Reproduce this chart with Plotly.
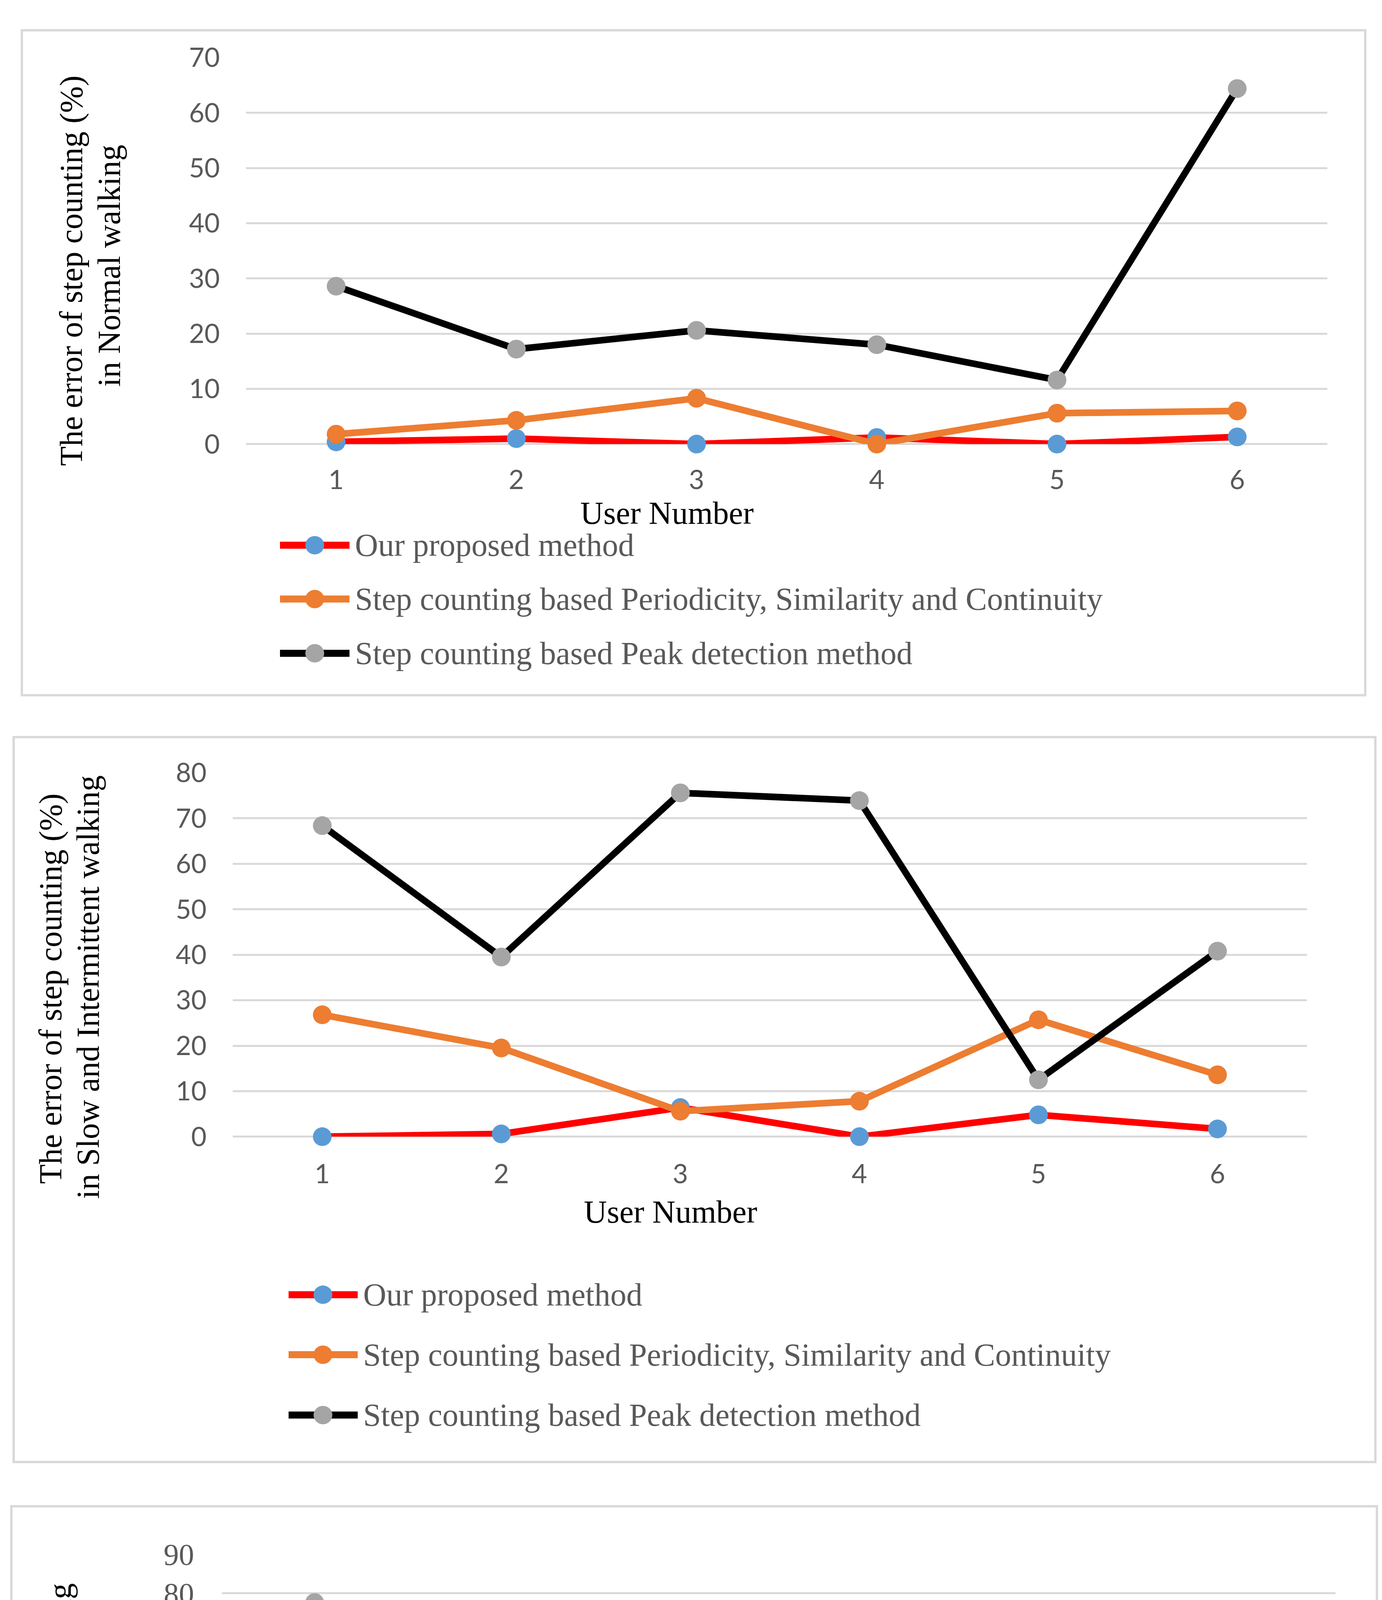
import plotly.graph_objects as go

W, H = 3539, 5597

users = [1, 2, 3, 4, 5, 6]
series_names = [
    "Our proposed method",
    "Step counting based Periodicity, Similarity and Continuity",
    "Step counting based Peak detection method",
]

# Panel 1: Normal walking
normal_ours = [0.4, 1.0, 0.0, 1.2, 0.0, 1.3]
normal_period = [1.8, 4.3, 8.3, 0.0, 5.6, 6.0]
normal_peak = [28.6, 17.2, 20.6, 18.0, 11.6, 64.4]

# Panel 2: Slow and Intermittent walking
slow_ours = [0.0, 0.6, 6.4, 0.0, 4.8, 1.7]
slow_period = [26.8, 19.5, 5.6, 7.8, 25.7, 13.6]
slow_peak = [68.4, 39.5, 75.6, 73.9, 12.5, 40.8]

# Panel 3: False walking
false_ours = [6.0, 3.4, 1.1, 3.0, 4.7, 3.5]
false_period = [13.2, 16.4, 12.5, 11.5, 20.9, 21.8]
false_peak = [77.6, 35.0, 67.9, 46.4, 21.9, 68.8]

line_colors = ["#ff0000", "#ed7d31", "#000000"]
marker_colors = ["#5b9bd5", "#ed7d31", "#a5a5a5"]

GRID = "#d9d9d9"
TXT = "#595959"
SERIF = "Liberation Serif, Times New Roman, serif"
SANS = "Lato, Open Sans, sans-serif"


def px_x(p):
    return p / W


def px_y(p):
    return 1 - p / H


# legend rows: (series index, text lines with their y centres)
panels = [
    dict(data=[normal_ours, normal_period, normal_peak], ymax=70,
         plot=(622, 3391, 98, 1103), frame=(48, 3488, 27, 1756),
         tickfont=dict(family=SANS, size=68, color=TXT), ystandoff=66, xstandoff=46,
         xtitle=(1700, 1282),
         legend=dict(x0=709, x1=887, xm=798, xt=899,
                     rows=[[(series_names[0], 1366)],
                           [(series_names[1], 1506)],
                           [(series_names[2], 1647)]]),
         ytitles=[("The error of step counting (%)", 175, 652, "middle"),
                  ("in Normal walking", 271, 640, "middle")]),
    dict(data=[slow_ours, slow_period, slow_peak], ymax=80,
         plot=(588, 3339, 1958, 2904), frame=(27, 3514, 1865, 3750),
         tickfont=dict(family=SANS, size=68, color=TXT), ystandoff=66, xstandoff=50,
         xtitle=(1709, 3100),
         legend=dict(x0=731, x1=908, xm=819, xt=920,
                     rows=[[(series_names[0], 3315)],
                           [(series_names[1], 3471)],
                           [(series_names[2], 3628)]]),
         ytitles=[("The error of step counting (%)", 122, 2519, "middle"),
                  ("in Slow and Intermittent walking", 218, 2515, "middle")]),
    dict(data=[false_ours, false_period, false_peak], ymax=90,
         plot=(560, 3412, 3990, 4901), frame=(21, 3518, 3865, 5570),
         tickfont=dict(family=SERIF, size=78, color=TXT), ystandoff=70, xstandoff=50,
         xtitle=(1782, 5143),
         legend=dict(x0=919, x1=1096, xm=1007, xt=1108,
                     rows=[[(series_names[0], 5247)],
                           [("Step counting based Periodicity, Similarity and", 5416),
                            ("Continuity", 5511)]]),
         ytitles=[("The error of step counting", 145, 4937, "bottom"),
                  ("(%)", 241, 4937, "bottom"),
                  ("in False walking", 337, 4498, "middle")]),
]

fig = go.Figure()
shapes = []
annotations = []
layout_axes = {}

for i, p in enumerate(panels, start=1):
    xa = "x" if i == 1 else f"x{i}"
    ya = "y" if i == 1 else f"y{i}"
    l, r, t, b = p["plot"]
    for k, vals in enumerate(p["data"]):
        fig.add_trace(go.Scatter(
            x=users, y=vals, xaxis=xa, yaxis=ya, mode="lines+markers",
            name=series_names[k], showlegend=False, cliponaxis=False,
            line=dict(color=line_colors[k], width=17),
            marker=dict(color=marker_colors[k], size=48, line=dict(width=0)),
        ))
    xkey = "xaxis" if i == 1 else f"xaxis{i}"
    ykey = "yaxis" if i == 1 else f"yaxis{i}"
    layout_axes[xkey] = dict(
        domain=[px_x(l), px_x(r)], range=[0.5, 6.5], anchor=ya,
        tickmode="array", tickvals=users, ticktext=[str(u) for u in users],
        showgrid=False, zeroline=False, showline=False, ticks="",
        tickfont=p["tickfont"], ticklabelstandoff=p["xstandoff"], fixedrange=True,
    )
    layout_axes[ykey] = dict(
        domain=[px_y(b), px_y(t)], range=[0, p["ymax"]], anchor=xa,
        dtick=10, tick0=0, showgrid=True, gridcolor=GRID, gridwidth=5,
        zeroline=True, zerolinecolor=GRID, zerolinewidth=5,
        showline=False, ticks="", tickfont=p["tickfont"],
        ticklabelstandoff=p["ystandoff"], fixedrange=True,
    )
    # outer frame of the panel
    fl, fr, ft, fb = p["frame"]
    shapes.append(dict(type="rect", xref="paper", yref="paper",
                       x0=px_x(fl), x1=px_x(fr), y0=px_y(fb), y1=px_y(ft),
                       line=dict(color=GRID, width=6), layer="below"))
    # x title
    xt, yt = p["xtitle"]
    annotations.append(dict(text="User Number", xref="paper", yref="paper",
                            x=px_x(xt), y=px_y(yt), xanchor="center", yanchor="middle",
                            showarrow=False, font=dict(family=SERIF, size=82, color="#000000")))
    # y titles
    for text, cx, cy, anc in p["ytitles"]:
        annotations.append(dict(text=text, xref="paper", yref="paper",
                                x=px_x(cx), y=px_y(cy), xanchor="center", yanchor=anc,
                                textangle=-90, showarrow=False,
                                font=dict(family=SERIF, size=82, color="#000000")))
    # legend (drawn manually to keep Excel-sized symbols)
    lg = p["legend"]
    for k, row in enumerate(lg["rows"]):
        yy = row[0][1]
        shapes.append(dict(type="line", xref="paper", yref="paper",
                           x0=px_x(lg["x0"]), x1=px_x(lg["x1"]), y0=px_y(yy), y1=px_y(yy),
                           line=dict(color=line_colors[k], width=18)))
        rr = 24
        shapes.append(dict(type="circle", xref="paper", yref="paper",
                           x0=px_x(lg["xm"] - rr), x1=px_x(lg["xm"] + rr),
                           y0=px_y(yy + rr), y1=px_y(yy - rr),
                           fillcolor=marker_colors[k], line=dict(width=0)))
        for text, ty in row:
            annotations.append(dict(text=text, xref="paper", yref="paper",
                                    x=px_x(lg["xt"]), y=px_y(ty),
                                    xanchor="left", yanchor="middle",
                                    align="left", showarrow=False,
                                    font=dict(family=SERIF, size=82, color=TXT)))

fig.update_layout(
    width=W, height=H, margin=dict(l=0, r=0, t=0, b=0),
    paper_bgcolor="white", plot_bgcolor="white", showlegend=False,
    shapes=shapes, annotations=annotations, **layout_axes,
)

fig.write_html("out.html")
